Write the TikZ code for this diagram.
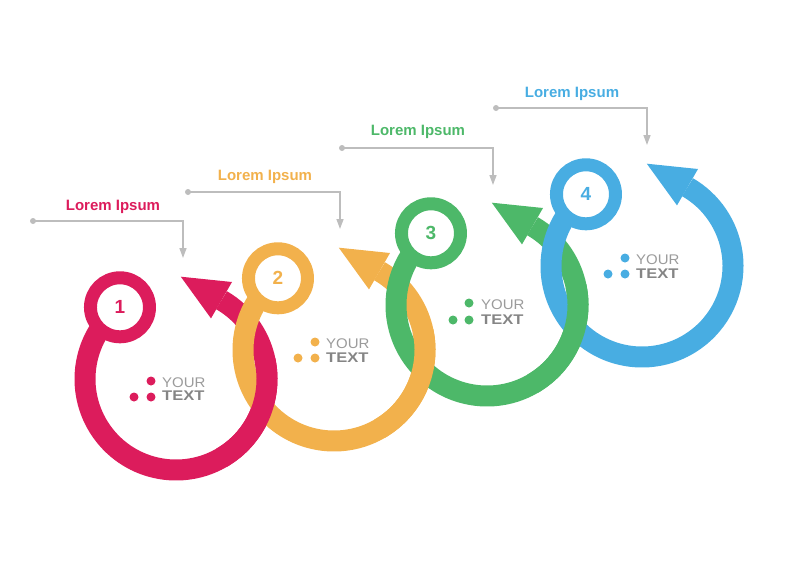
\documentclass[tikz,border=0pt]{standalone}
\usepackage{fontspec}
\setmainfont{Liberation Sans}
\usepackage{graphicx}
\usepackage{tikz}
\usetikzlibrary{calc,arrows.meta}
\definecolor{roseA}{HTML}{DC1C5C}
\definecolor{amberA}{HTML}{F2B14C}
\definecolor{greenA}{HTML}{4DB869}
\definecolor{blueA}{HTML}{48ADE2}
\definecolor{lineA}{HTML}{BDBDBD}
\definecolor{textA}{HTML}{9B9B9B}
\definecolor{textB}{HTML}{858585}

\begin{document}
\begin{tikzpicture}[x=1pt,y=1pt,
    ring/.style={line width=21pt},
    knob/.style={circle,fill=white,line width=13pt,minimum size=59pt,inner sep=0pt,
      font=\fontsize{19}{19}\selectfont\bfseries},
    title/.style={inner sep=0pt,font=\fontsize{15}{15}\selectfont\bfseries},
    guide/.style={draw=lineA,line width=1.5pt,-{Triangle[length=10pt,width=7pt]}},
    your/.style={anchor=west,inner sep=0pt,text=textA,font=\fontsize{14}{14}\selectfont},
    txt/.style={anchor=west,inner sep=0pt,text=textB,font=\fontsize{14}{14}\selectfont\bfseries}]
    \useasboundingbox (0,0) rectangle (800,-560);
    % Tâm các vòng
    \coordinate (C1) at (176,-379);
    \coordinate (C2) at (334,-350);
    \coordinate (C3) at (487,-305);
    \coordinate (C4) at (642,-266);
    % Đầu mũi tên
    \coordinate (E1) at ($(C1)+(60:91)$);
    \coordinate (E2) at ($(C2)+(60:91)$);
    \coordinate (E3) at ($(C3)+(60:91)$);
    \coordinate (E4) at ($(C4)+(60:91)$);
    % Vòng 1
    \draw[ring,roseA] ($(C1)+(128:91)$) arc[start angle=128,end angle=420,radius=91];
    \fill[roseA] ($(E1)+(150:47)$) -- ($(E1)+(60:21)$) -- ($(E1)+(240:21)$) -- cycle;
    \node[knob,draw=roseA,text=roseA] (n1) at ($(C1)+(128:91)$) {1};
    % Vòng 2
    \draw[ring,amberA] ($(C2)+(128:91)$) arc[start angle=128,end angle=420,radius=91];
    \fill[amberA] ($(E2)+(150:47)$) -- ($(E2)+(60:21)$) -- ($(E2)+(240:21)$) -- cycle;
    \node[knob,draw=amberA,text=amberA] (n2) at ($(C2)+(128:91)$) {2};
    % Vòng 3
    \draw[ring,greenA] ($(C3)+(128:91)$) arc[start angle=128,end angle=420,radius=91];
    \fill[greenA] ($(E3)+(150:47)$) -- ($(E3)+(60:21)$) -- ($(E3)+(240:21)$) -- cycle;
    \node[knob,draw=greenA,text=greenA] (n3) at ($(C3)+(128:91)$) {3};
    % Vòng 4
    \draw[ring,blueA] ($(C4)+(128:91)$) arc[start angle=128,end angle=420,radius=91];
    \fill[blueA] ($(E4)+(150:47)$) -- ($(E4)+(60:21)$) -- ($(E4)+(240:21)$) -- cycle;
    \node[knob,draw=blueA,text=blueA] (n4) at ($(C4)+(128:91)$) {4};
    % Chỗ đan nhau phía dưới
    \draw[ring,roseA] ($(C1)+(-60:91)$) arc[start angle=-60,end angle=12,radius=91];
    \draw[ring,amberA] ($(C2)+(-60:91)$) arc[start angle=-60,end angle=12,radius=91];
    \draw[ring,greenA] ($(C3)+(-60:91)$) arc[start angle=-60,end angle=12,radius=91];
    % Đường dẫn xám
    \coordinate (d1) at (33,-221);
    \coordinate (t1) at (183,-258);
    \coordinate (d2) at (188,-192);
    \coordinate (t2) at (340,-229);
    \coordinate (d3) at (342,-148);
    \coordinate (t3) at (493,-185);
    \coordinate (d4) at (496,-108);
    \coordinate (t4) at (647,-145);
    \fill[lineA] (d1) circle (3) (d2) circle (3) (d3) circle (3) (d4) circle (3);
    \draw[guide] (d1) -| (t1);
    \draw[guide] (d2) -| (t2);
    \draw[guide] (d3) -| (t3);
    \draw[guide] (d4) -| (t4);
    % Tiêu đề
    \node[title,text=roseA] (l1) at (113,-207) {Lorem Ipsum};
    \node[title,text=amberA] (l2) at (265,-177) {Lorem Ipsum};
    \node[title,text=greenA] (l3) at (418,-132) {Lorem Ipsum};
    \node[title,text=blueA] (l4) at (572,-94) {Lorem Ipsum};
    % Chấm và chữ
    \fill[roseA] (151,-381) circle (4.5) (134,-397) circle (4.5) (151,-397) circle (4.5);
    \node[your] (y1) at (162,-383) {\scalebox{1.07}[1]{YOUR}};
    \node[txt] (x1) at (162,-396) {\scalebox{1.18}[1]{TEXT}};
    \fill[amberA] (315,-342) circle (4.5) (298,-358) circle (4.5) (315,-358) circle (4.5);
    \node[your] (y2) at (326,-344) {\scalebox{1.07}[1]{YOUR}};
    \node[txt] (x2) at (326,-357.5) {\scalebox{1.18}[1]{TEXT}};
    \fill[greenA] (469,-303) circle (4.5) (453,-320) circle (4.5) (469,-320) circle (4.5);
    \node[your] (y3) at (481,-305) {\scalebox{1.07}[1]{YOUR}};
    \node[txt] (x3) at (481,-319.5) {\scalebox{1.18}[1]{TEXT}};
    \fill[blueA] (625,-258) circle (4.5) (608,-274) circle (4.5) (625,-274) circle (4.5);
    \node[your] (y4) at (636,-260) {\scalebox{1.07}[1]{YOUR}};
    \node[txt] (x4) at (636,-274) {\scalebox{1.18}[1]{TEXT}};
\end{tikzpicture}
\end{document}
